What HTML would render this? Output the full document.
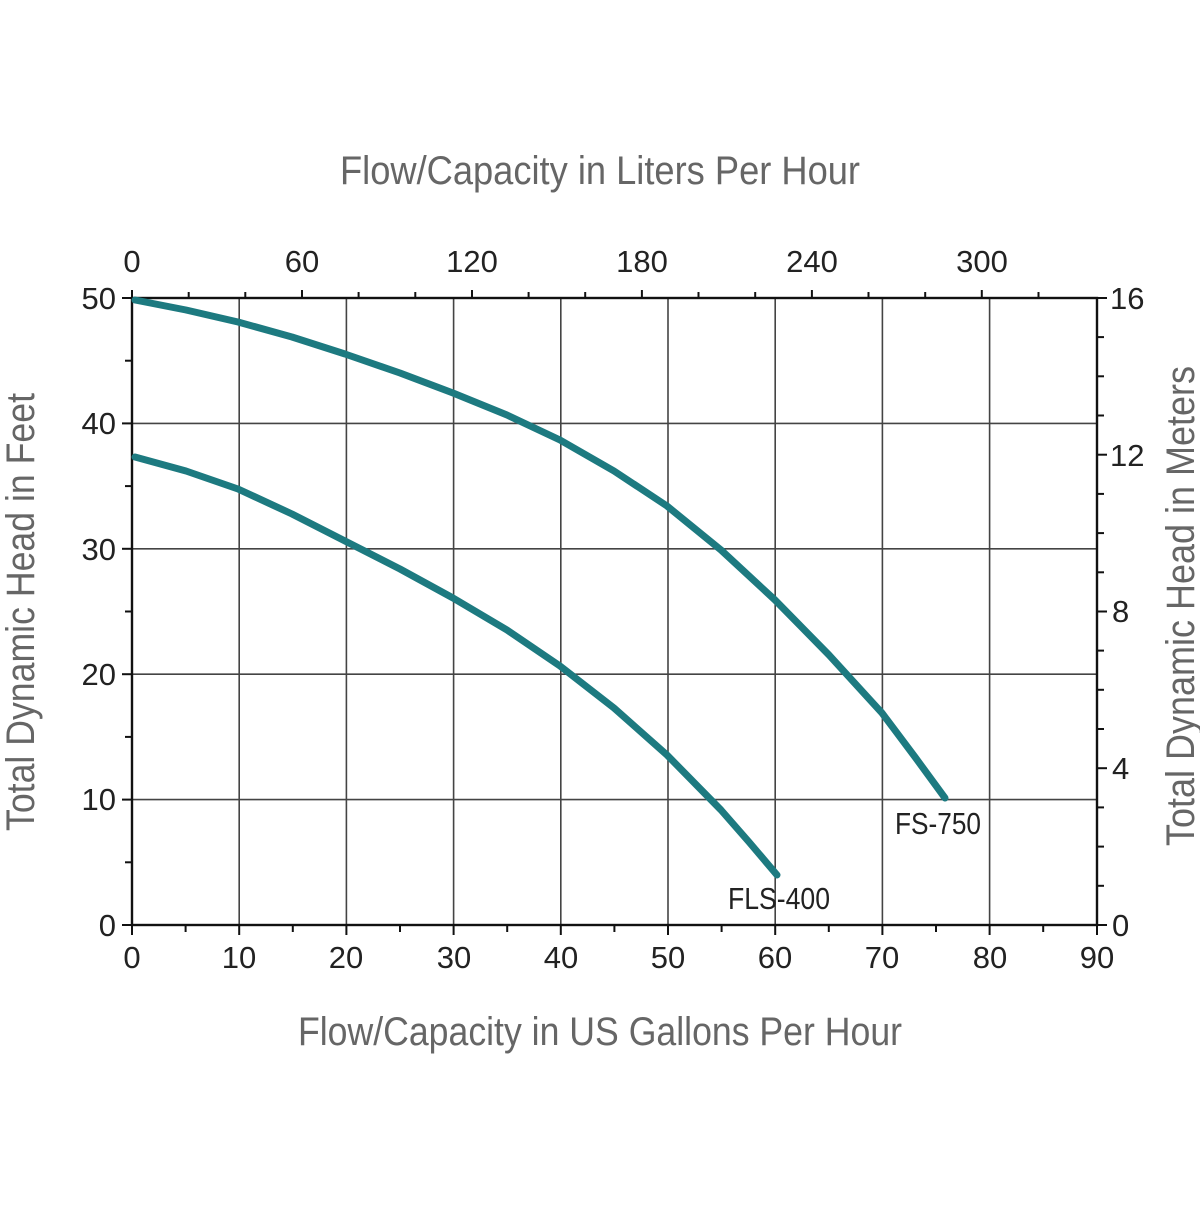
<!DOCTYPE html>
<html><head><style>
html,body{margin:0;padding:0;background:#fff}
svg text{font-family:"Liberation Sans",sans-serif}
</style></head><body>
<svg width="1200" height="1200" viewBox="0 0 1200 1200" xmlns="http://www.w3.org/2000/svg">
<rect width="1200" height="1200" fill="#fff"/>
<g stroke="#444" stroke-width="1.6">
<line x1="239.2" y1="298" x2="239.2" y2="925"/><line x1="346.4" y1="298" x2="346.4" y2="925"/>
<line x1="453.6" y1="298" x2="453.6" y2="925"/><line x1="560.8" y1="298" x2="560.8" y2="925"/>
<line x1="668" y1="298" x2="668" y2="925"/><line x1="775.2" y1="298" x2="775.2" y2="925"/>
<line x1="882.4" y1="298" x2="882.4" y2="925"/><line x1="989.6" y1="298" x2="989.6" y2="925"/>
<line x1="132" y1="799.6" x2="1097" y2="799.6"/><line x1="132" y1="674.2" x2="1097" y2="674.2"/>
<line x1="132" y1="548.8" x2="1097" y2="548.8"/><line x1="132" y1="423.4" x2="1097" y2="423.4"/>
</g>
<g stroke="#111" stroke-width="2.4" fill="none">
<rect x="132" y="298" width="965" height="627"/>
</g>
<g stroke="#111" stroke-width="2">
<line x1="122" y1="925" x2="132" y2="925"/><line x1="122" y1="799.6" x2="132" y2="799.6"/><line x1="122" y1="674.2" x2="132" y2="674.2"/>
<line x1="122" y1="548.8" x2="132" y2="548.8"/><line x1="122" y1="423.4" x2="132" y2="423.4"/><line x1="122" y1="298" x2="132" y2="298"/>
<line x1="125" y1="862.3" x2="132" y2="862.3"/><line x1="125" y1="736.9" x2="132" y2="736.9"/><line x1="125" y1="611.5" x2="132" y2="611.5"/>
<line x1="125" y1="486.1" x2="132" y2="486.1"/><line x1="125" y1="360.7" x2="132" y2="360.7"/>
<line x1="132" y1="925" x2="132" y2="935"/><line x1="239.2" y1="925" x2="239.2" y2="935"/><line x1="346.4" y1="925" x2="346.4" y2="935"/>
<line x1="453.6" y1="925" x2="453.6" y2="935"/><line x1="560.8" y1="925" x2="560.8" y2="935"/><line x1="668" y1="925" x2="668" y2="935"/>
<line x1="775.2" y1="925" x2="775.2" y2="935"/><line x1="882.4" y1="925" x2="882.4" y2="935"/><line x1="989.6" y1="925" x2="989.6" y2="935"/>
<line x1="1097" y1="925" x2="1097" y2="935"/>
<line x1="185.6" y1="925" x2="185.6" y2="932"/><line x1="292.8" y1="925" x2="292.8" y2="932"/><line x1="400" y1="925" x2="400" y2="932"/>
<line x1="507.2" y1="925" x2="507.2" y2="932"/><line x1="614.4" y1="925" x2="614.4" y2="932"/><line x1="721.6" y1="925" x2="721.6" y2="932"/>
<line x1="828.8" y1="925" x2="828.8" y2="932"/><line x1="936" y1="925" x2="936" y2="932"/><line x1="1043.2" y1="925" x2="1043.2" y2="932"/>
<line x1="132" y1="290" x2="132" y2="298"/><line x1="188.7" y1="292" x2="188.7" y2="298"/><line x1="245.3" y1="292" x2="245.3" y2="298"/>
<line x1="302" y1="290" x2="302" y2="298"/><line x1="358.6" y1="292" x2="358.6" y2="298"/><line x1="415.3" y1="292" x2="415.3" y2="298"/>
<line x1="472" y1="290" x2="472" y2="298"/><line x1="528.6" y1="292" x2="528.6" y2="298"/><line x1="585.2" y1="292" x2="585.2" y2="298"/>
<line x1="641.9" y1="290" x2="641.9" y2="298"/><line x1="698.5" y1="292" x2="698.5" y2="298"/><line x1="755.2" y1="292" x2="755.2" y2="298"/>
<line x1="811.9" y1="290" x2="811.9" y2="298"/><line x1="868.5" y1="292" x2="868.5" y2="298"/><line x1="925.2" y1="292" x2="925.2" y2="298"/>
<line x1="981.8" y1="290" x2="981.8" y2="298"/><line x1="1038.5" y1="292" x2="1038.5" y2="298"/>
<line x1="1097" y1="925" x2="1107" y2="925"/><line x1="1097" y1="885.8" x2="1104" y2="885.8"/><line x1="1097" y1="846.6" x2="1104" y2="846.6"/>
<line x1="1097" y1="807.4" x2="1104" y2="807.4"/><line x1="1097" y1="768.2" x2="1107" y2="768.2"/><line x1="1097" y1="729" x2="1104" y2="729"/>
<line x1="1097" y1="689.8" x2="1104" y2="689.8"/><line x1="1097" y1="650.6" x2="1104" y2="650.6"/><line x1="1097" y1="611.5" x2="1107" y2="611.5"/>
<line x1="1097" y1="572.3" x2="1104" y2="572.3"/><line x1="1097" y1="533.1" x2="1104" y2="533.1"/><line x1="1097" y1="493.9" x2="1104" y2="493.9"/>
<line x1="1097" y1="454.7" x2="1107" y2="454.7"/><line x1="1097" y1="415.5" x2="1104" y2="415.5"/><line x1="1097" y1="376.3" x2="1104" y2="376.3"/>
<line x1="1097" y1="337.1" x2="1104" y2="337.1"/><line x1="1097" y1="298" x2="1107" y2="298"/>
</g>
<g fill="none" stroke="#1d7a80" stroke-width="7" stroke-linecap="round" stroke-linejoin="round">
<polyline points="135,300 186,310 238,322 292,337 345,354 400,373 453,393 507,415 560,440 614,471 667,506 721,550 775,600 829,655 882,713 915,757 945,798"/>
<polyline points="135,457 186,471 238,489 292,514 345,541 400,569 453,598 507,630 560,666 614,708 667,755 721,810 749,842 777,875"/>
</g>
<g fill="#222" font-size="31">
<text x="132" y="272" text-anchor="middle">0</text>
<text x="302" y="272" text-anchor="middle">60</text>
<text x="472" y="272" text-anchor="middle">120</text>
<text x="642" y="272" text-anchor="middle">180</text>
<text x="812" y="272" text-anchor="middle">240</text>
<text x="982" y="272" text-anchor="middle">300</text>
<text x="132" y="968" text-anchor="middle">0</text>
<text x="239" y="968" text-anchor="middle">10</text>
<text x="346" y="968" text-anchor="middle">20</text>
<text x="454" y="968" text-anchor="middle">30</text>
<text x="561" y="968" text-anchor="middle">40</text>
<text x="668" y="968" text-anchor="middle">50</text>
<text x="775" y="968" text-anchor="middle">60</text>
<text x="882" y="968" text-anchor="middle">70</text>
<text x="990" y="968" text-anchor="middle">80</text>
<text x="1097" y="968" text-anchor="middle">90</text>
<text x="116" y="936" text-anchor="end">0</text>
<text x="116" y="810" text-anchor="end">10</text>
<text x="116" y="685" text-anchor="end">20</text>
<text x="116" y="560" text-anchor="end">30</text>
<text x="116" y="434" text-anchor="end">40</text>
<text x="116" y="309" text-anchor="end">50</text>
<text x="1112" y="936">0</text>
<text x="1112" y="779">4</text>
<text x="1112" y="622">8</text>
<text x="1110" y="466">12</text>
<text x="1110" y="309">16</text>
<text x="895" y="834" textLength="86" lengthAdjust="spacingAndGlyphs">FS-750</text>
<text x="728" y="909" textLength="102" lengthAdjust="spacingAndGlyphs">FLS-400</text>
</g>
<g fill="#666" font-size="40">
<text x="340" y="184" textLength="520" lengthAdjust="spacingAndGlyphs">Flow/Capacity in Liters Per Hour</text>
<text x="298" y="1045" textLength="604" lengthAdjust="spacingAndGlyphs">Flow/Capacity in US Gallons Per Hour</text>
<text transform="translate(34,612) rotate(-90)" text-anchor="middle" textLength="438" lengthAdjust="spacingAndGlyphs">Total Dynamic Head in Feet</text>
<text transform="translate(1194,606) rotate(-90)" text-anchor="middle" textLength="480" lengthAdjust="spacingAndGlyphs">Total Dynamic Head in Meters</text>
</g>
</svg>
</body></html>
